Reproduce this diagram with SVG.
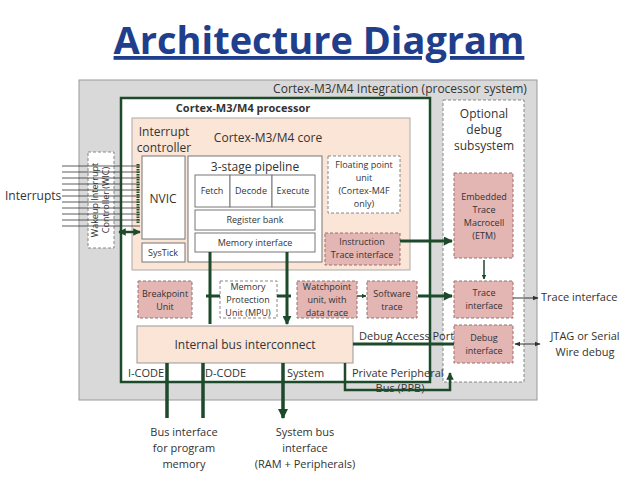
<svg xmlns="http://www.w3.org/2000/svg" width="638" height="478" viewBox="0 0 638 478">
<style>
text{font-family:"Open Sans","Liberation Sans",sans-serif;fill:#333;}
.s{font-size:9px}.m{font-size:11px}.l{font-size:12px}
.pk{fill:#e3b5b3;stroke:#9a7070;stroke-dasharray:3 2;stroke-width:1}
.wd{fill:#fff;stroke:#888;stroke-dasharray:3 2;stroke-width:1}
.wb{fill:#fff;stroke:#777;stroke-width:1}
.g{stroke:#1d4a2a;fill:none}
</style>
<defs>
<marker id="a" viewBox="0 0 10 10" refX="9" refY="5" markerWidth="3" markerHeight="3" orient="auto-start-reverse"><path d="M0,0L10,5L0,10z" fill="#1d4a2a"/></marker>
<marker id="t" viewBox="0 0 10 10" refX="9" refY="5" markerWidth="6" markerHeight="6" orient="auto-start-reverse"><path d="M0,1L10,5L0,9z" fill="#333"/></marker>
</defs>
<rect width="638" height="478" fill="#fff"/>
<text x="319" y="54" text-anchor="middle" style="font-size:38px;font-weight:bold;fill:#1f3e8c;text-decoration:underline">Architecture Diagram</text>
<g id="integration"><rect x="79" y="80" width="458" height="320" fill="#d9d9d9" stroke="#999"/><text x="400" y="93" text-anchor="middle" class="l">Cortex-M3/M4 Integration (processor system)</text></g>
<g id="debugsub"><rect x="443" y="100" width="81" height="282" class="wd"/><text x="484" y="118" text-anchor="middle" class="l">Optional</text><text x="484" y="134" text-anchor="middle" class="l">debug</text><text x="484" y="150" text-anchor="middle" class="l">subsystem</text></g>
<g id="processor"><rect x="121" y="98" width="309" height="284" fill="#fff" stroke="#1d4a2a" stroke-width="2.5"/><text x="243" y="112" text-anchor="middle" class="m" font-weight="bold">Cortex-M3/M4 processor</text></g>
<g id="core"><rect x="132" y="118" width="278" height="152" fill="#fbe5d6" stroke="#aaa"/><text x="268" y="142" text-anchor="middle" class="l">Cortex-M3/M4 core</text><text x="164" y="136" text-anchor="middle" class="l">Interrupt</text><text x="164" y="152" text-anchor="middle" class="l">controller</text></g>
<g id="wic"><rect x="88" y="152" width="26" height="96" class="wd"/><text transform="translate(98,200) rotate(-90)" text-anchor="middle" class="s">Wakeup Interrupt</text><text transform="translate(109,200) rotate(-90)" text-anchor="middle" class="s">Controller (WIC)</text></g>
<g id="nvic"><rect x="142" y="156" width="43" height="83" class="wb"/><text x="163" y="203" text-anchor="middle" class="l">NVIC</text></g>
<g id="systick"><rect x="142" y="243" width="43" height="19" class="wb"/><text x="163" y="256" text-anchor="middle" class="s">SysTick</text></g>
<g id="pipeline"><rect x="188" y="156" width="134" height="106" class="wb"/><text x="255" y="171" text-anchor="middle" class="l">3-stage pipeline</text></g>
<g id="fetch"><rect x="195" y="175" width="35" height="32" class="wb"/><text x="212" y="194" text-anchor="middle" class="s">Fetch</text></g>
<g id="decode"><rect x="230" y="175" width="42" height="32" class="wb"/><text x="251" y="194" text-anchor="middle" class="s">Decode</text></g>
<g id="execute"><rect x="272" y="175" width="43" height="32" class="wb"/><text x="293" y="194" text-anchor="middle" class="s">Execute</text></g>
<g id="regbank"><rect x="195" y="210" width="120" height="20" class="wb"/><text x="255" y="223" text-anchor="middle" class="s">Register bank</text></g>
<g id="memif"><rect x="195" y="233" width="120" height="19" class="wb"/><text x="255" y="246" text-anchor="middle" class="s">Memory interface</text></g>
<g id="fpu"><rect x="328" y="156" width="72" height="57" class="wd"/><text x="364" y="168" text-anchor="middle" class="s">Floating point</text><text x="364" y="181" text-anchor="middle" class="s">unit</text><text x="364" y="194" text-anchor="middle" class="s">(Cortex-M4F</text><text x="364" y="207" text-anchor="middle" class="s">only)</text></g>
<g id="iti"><rect x="325" y="233" width="75" height="32" class="pk"/><text x="362" y="245" text-anchor="middle" class="s">Instruction</text><text x="362" y="258" text-anchor="middle" class="s">Trace interface</text></g>
<g id="etm"><rect x="454" y="173" width="59" height="85" class="pk"/><text x="484" y="200" text-anchor="middle" class="s">Embedded</text><text x="484" y="213" text-anchor="middle" class="s">Trace</text><text x="484" y="226" text-anchor="middle" class="s">Macrocell</text><text x="484" y="239" text-anchor="middle" class="s">(ETM)</text></g>
<g id="traceif"><rect x="454" y="281" width="59" height="37" class="pk"/><text x="484" y="296" text-anchor="middle" class="s">Trace</text><text x="484" y="309" text-anchor="middle" class="s">interface</text></g>
<g id="debugif"><rect x="454" y="325" width="59" height="38" class="pk"/><text x="484" y="341" text-anchor="middle" class="s">Debug</text><text x="484" y="354" text-anchor="middle" class="s">interface</text></g>
<g id="bp"><rect x="138" y="281" width="54" height="37" class="pk"/><text x="165" y="297" text-anchor="middle" class="s">Breakpoint</text><text x="165" y="310" text-anchor="middle" class="s">Unit</text></g>
<g id="mpu"><rect x="220" y="281" width="57" height="37" class="wd"/><text x="248" y="290" text-anchor="middle" class="s">Memory</text><text x="248" y="303" text-anchor="middle" class="s">Protection</text><text x="248" y="316" text-anchor="middle" class="s">Unit (MPU)</text></g>
<g id="wp"><rect x="297" y="281" width="60" height="37" class="pk"/><text x="327" y="290" text-anchor="middle" class="s">Watchpoint</text><text x="327" y="303" text-anchor="middle" class="s">unit, with</text><text x="327" y="316" text-anchor="middle" class="s">data trace</text></g>
<g id="swt"><rect x="367" y="281" width="50" height="37" class="pk"/><text x="392" y="297" text-anchor="middle" class="s">Software</text><text x="392" y="310" text-anchor="middle" class="s">trace</text></g>
<g id="bus"><rect x="137" y="326" width="216" height="37" fill="#fbe5d6" stroke="#999"/><text x="245" y="349" text-anchor="middle" class="l">Internal bus interconnect</text></g>
<g id="labels">
<text x="5" y="200" class="l">Interrupts</text>
<text x="128" y="377" class="m">I-CODE</text><text x="205" y="377" class="m">D-CODE</text><text x="287" y="377" class="m">System</text>
<text x="352" y="377" class="m">Private Peripheral</text><text x="400" y="392" text-anchor="middle" class="m">Bus (PPB)</text>
<text x="359" y="340" class="m">Debug Access Port</text>
<text x="541" y="301" class="m">Trace interface</text>
<text x="585" y="340" text-anchor="middle" class="m">JTAG or Serial</text><text x="585" y="356" text-anchor="middle" class="m">Wire debug</text>
<text x="184" y="436" text-anchor="middle" class="m">Bus interface</text><text x="184" y="452" text-anchor="middle" class="m">for program</text><text x="184" y="468" text-anchor="middle" class="m">memory</text>
<text x="305" y="436" text-anchor="middle" class="m">System bus</text><text x="305" y="452" text-anchor="middle" class="m">interface</text><text x="305" y="468" text-anchor="middle" class="m">(RAM + Peripherals)</text>
</g>
<g id="connectors">
<path d="M62,166H140M62,172H140M62,178H140M62,184H140M62,190H140M62,196H140M62,202H140M62,208H140M62,214H140M62,220H140M62,226H140" stroke="#333" stroke-width="0.8"/>
<path d="M138,164V224" stroke="#1d4a2a" stroke-width="3" stroke-dasharray="1.5 1"/>
<path d="M119,232H140" class="g" stroke-width="2.5" marker-start="url(#a)" marker-end="url(#a)"/>
<path d="M210,252V324M287,252V324" class="g" stroke-width="3" marker-end="url(#a)"/>
<path d="M206,296H220M277,296H291" class="g" stroke-width="3"/>
<path d="M400,241H452" class="g" stroke-width="3" marker-end="url(#a)"/>
<path d="M484,260V279" class="g" stroke-width="1.5" marker-end="url(#a)"/>
<path d="M357,296H366" class="g" stroke-width="1.5" marker-end="url(#a)"/>
<path d="M418,296H452" class="g" stroke-width="3" marker-end="url(#a)"/>
<path d="M353,344H454" class="g" stroke-width="3"/>
<path d="M513,298H538" stroke="#333" stroke-width="1" marker-end="url(#t)"/>
<path d="M515,344H540" stroke="#333" stroke-width="1" marker-start="url(#t)" marker-end="url(#t)"/>
<path d="M167,363V418M203,363V418M283,363V418" class="g" stroke-width="3.5" marker-end="url(#a)"/>
<path d="M345,363V390H450V373" class="g" stroke-width="2.5" marker-end="url(#a)"/>
</g>
</svg>
